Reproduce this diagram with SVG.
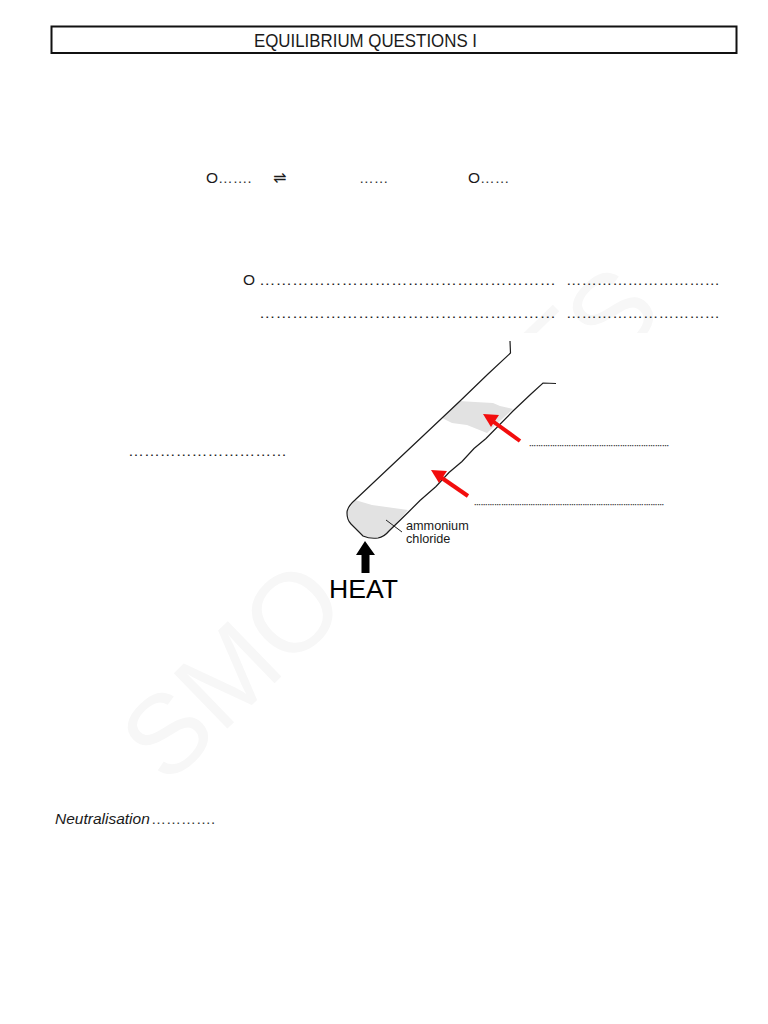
<svg xmlns="http://www.w3.org/2000/svg" width="768" height="1024" viewBox="0 0 768 1024">
<style>
text{font-family:"Liberation Sans",Arial,sans-serif;fill:#1a1a1a}
.b{font-size:15.500px}
.t{font-size:14.700px;fill:#333}
.d{font-size:12.300px;fill:#222}
.f{font-size:7.500px;fill:#333;stroke:#333;stroke-width:.35}
.w{font-size:112px;fill:#f7f7f7}
.tube{fill:none;stroke:#1c1c1c;stroke-width:1.200}
.gr{fill:#e2e2e2}
.red{stroke:#f20d0d;stroke-width:4;fill:none}
</style>
<rect width="768" height="1024" fill="#fff"/>
<g id="watermark">
<text class="w" transform="translate(167 787) rotate(-44)">SMO</text>
<text class="w" transform="translate(612 367) rotate(-44)">S</text>
<path d="M525 338L556 308" stroke="#f7f7f7" stroke-width="9" fill="none"/>
<rect x="332" y="333" width="345" height="272" fill="#fff"/>
</g>
<g id="title">
<rect x="51.500" y="26.500" width="685" height="26.500" fill="#fff" stroke="#111" stroke-width="2"/>
<text x="254" y="47" font-size="19" textLength="223" lengthAdjust="spacingAndGlyphs">EQUILIBRIUM QUESTIONS I</text>
</g>
<g id="equation">
<text class="b" x="206" y="183">O</text>
<text class="t" x="218" y="183">…….</text>
<text x="273" y="183" font-size="16" style="font-family:'DejaVu Sans',sans-serif">⇌</text>
<text class="t" x="359" y="183">……</text>
<text class="b" x="468" y="183">O</text>
<text class="t" x="480" y="183">……</text>
</g>
<g id="answer-lines">
<text class="b" x="243" y="285">O</text>
<text class="d" x="259" y="285" textLength="297" lengthAdjust="spacingAndGlyphs">………………………………………………</text>
<text class="d" x="566" y="285" textLength="154" lengthAdjust="spacingAndGlyphs">…………………………</text>
<text class="d" x="259" y="318" textLength="297" lengthAdjust="spacingAndGlyphs">………………………………………………</text>
<text class="d" x="566" y="318" textLength="154" lengthAdjust="spacingAndGlyphs">…………………………</text>
<text class="d" x="128" y="456" textLength="159" lengthAdjust="spacingAndGlyphs">…………………………</text>
</g>
<g id="apparatus">
<path id="solid-bottom" class="gr" d="M355 500L372 505L408 510L388 532L378 538L363 537L350 522L347 512Z"/>
<path id="sublimate" class="gr" d="M459 401L475 402L493 403L500 406L513 409L487 433L467 425L452 423L442 418Z"/>
<path id="tube" class="tube" d="M510 341L510.500 353L488 374L459 402L424 435L390 467L355 500Q347 507 347 513Q347 520 351 524L363 536Q370 539 378 538Q384 537 389 531L408 512.500L420 500.500L436 486.500L449 472.500L462 461.500L474 448.500L486 438.500L513 411L531 394L543 383L556 383.500"/>
<path id="leader" d="M386 520L402 532" stroke="#222" stroke-width="1" fill="none"/>
<text x="406" y="530" font-size="12.700">ammonium</text>
<text x="406" y="543" font-size="12.700">chloride</text>
<path id="heat-arrow" d="M365 541L375 555L369.500 555L369.500 573L361.500 573L361.500 555L356 555Z" fill="#000"/>
<text x="329" y="598" font-size="26" textLength="69" lengthAdjust="spacingAndGlyphs" style="fill:#000">HEAT</text>
</g>
<g id="connectors">
<path class="red" d="M520 441L491 420"/>
<path d="M483 414L499 415L491 427Z" fill="#f20d0d"/>
<path class="red" d="M468 496L439 476"/>
<path d="M431 470L447 471L439 483Z" fill="#f20d0d"/>
</g>
<g id="labels">
<text class="f" x="529" y="446" textLength="140" lengthAdjust="spacingAndGlyphs">……………………………………………………</text>
<text class="f" x="474" y="505" textLength="190" lengthAdjust="spacingAndGlyphs">…………………………………………………………………………</text>
</g>
<g id="footer">
<text x="55" y="824" font-size="15.500" font-style="italic">Neutralisation</text>
<text class="t" x="151" y="824" style="font-size:15px">………….</text>
</g>
</svg>
